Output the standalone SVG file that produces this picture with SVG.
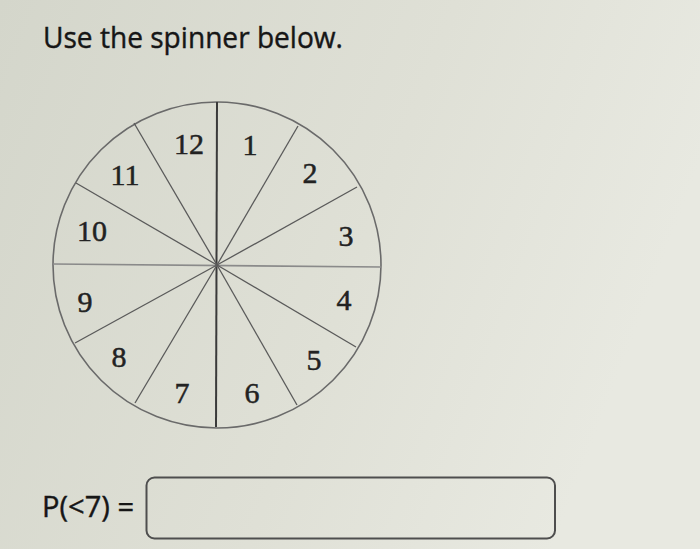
<svg xmlns="http://www.w3.org/2000/svg" width="700" height="549" viewBox="0 0 700 549">
  <defs>
    <linearGradient id="bg" x1="0" y1="0" x2="1" y2="0.3">
      <stop offset="0" stop-color="#d4d6cb"/>
      <stop offset="0.6" stop-color="#dfe0d6"/>
      <stop offset="1" stop-color="#e8e9e1"/>
    </linearGradient>
    <style>
      .title { font-family: "Open Sans", "Liberation Sans", sans-serif; font-size: 29px; fill: #161616; stroke: #161616; stroke-width: 0.4; }
      .num { font-family: "Liberation Serif", serif; font-size: 30px; fill: #222; stroke: #222; stroke-width: 0.5; text-anchor: middle; }
      .spoke { stroke: #5a5a5a; stroke-width: 1.3; }
    </style>
  </defs>
  <rect width="700" height="549" fill="url(#bg)"/>
  <text class="title" x="43" y="48" textLength="300" lengthAdjust="spacingAndGlyphs">Use the spinner below.</text>

  <g id="spinner">
    <ellipse cx="217" cy="265" rx="164" ry="163" fill="none" stroke="#6a6a6a" stroke-width="1.6"/>
  </g>
  <g id="connectors">
    <line x1="217" y1="102" x2="216" y2="427" stroke="#3a3a3a" stroke-width="2"/>
    <line x1="53" y1="264" x2="381" y2="267" stroke="#8a8a8a" stroke-width="1.6"/>
    <line class="spoke" x1="217" y1="265" x2="134" y2="123"/>
    <line class="spoke" x1="217" y1="265" x2="76" y2="183"/>
    <line class="spoke" x1="217" y1="265" x2="298" y2="126"/>
    <line class="spoke" x1="217" y1="265" x2="357" y2="187"/>
    <line class="spoke" x1="217" y1="265" x2="356" y2="347"/>
    <line class="spoke" x1="217" y1="265" x2="297" y2="405"/>
    <line class="spoke" x1="217" y1="265" x2="135" y2="403"/>
    <line class="spoke" x1="217" y1="265" x2="75" y2="343"/>
  </g>
  <g id="labels">
    <text class="num" x="189" y="154">12</text>
    <text class="num" x="250" y="155">1</text>
    <text class="num" x="310" y="183">2</text>
    <text class="num" x="125" y="185">11</text>
    <text class="num" x="92" y="241">10</text>
    <text class="num" x="346" y="246">3</text>
    <text class="num" x="85" y="312">9</text>
    <text class="num" x="344" y="310">4</text>
    <text class="num" x="119" y="367">8</text>
    <text class="num" x="314" y="370">5</text>
    <text class="num" x="182" y="403">7</text>
    <text class="num" x="252" y="403">6</text>
  </g>

  <g id="answer">
    <text class="title" x="42" y="517" textLength="92" lengthAdjust="spacingAndGlyphs">P(&lt;7) =</text>
    <rect x="146.5" y="477.5" width="408.5" height="61" rx="8" fill="none" stroke="#4e4e4e" stroke-width="2"/>
  </g>
</svg>
